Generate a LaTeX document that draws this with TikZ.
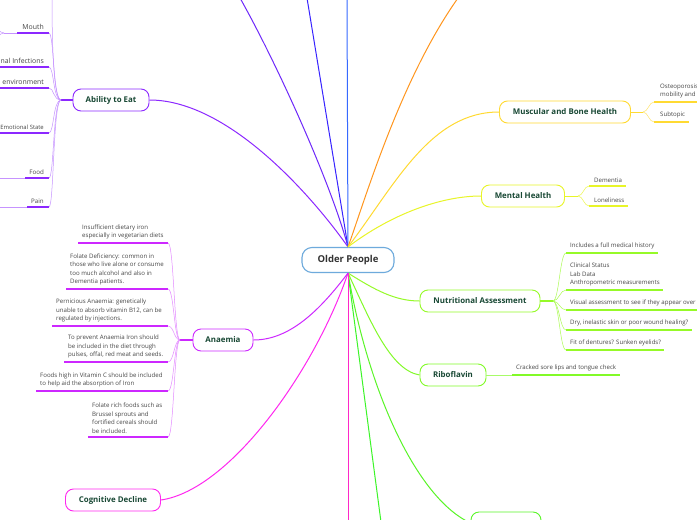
\documentclass[tikz,border=0pt]{standalone}
\usepackage{fontspec}
\setmainfont{Open Sans}
\definecolor{abl}{RGB}{140,40,255}
\definecolor{topViolet}{RGB}{110,40,250}
\definecolor{topBlue}{RGB}{55,35,255}
\definecolor{vertBlue}{RGB}{55,105,255}
\definecolor{orng}{RGB}{255,150,30}
\definecolor{musc}{RGB}{255,218,50}
\definecolor{ment}{RGB}{232,245,40}
\definecolor{nutr}{RGB}{150,250,40}
\definecolor{ribo}{RGB}{130,250,40}
\definecolor{grnA}{RGB}{90,245,40}
\definecolor{grnB}{RGB}{60,245,40}
\definecolor{pinkV}{RGB}{255,40,200}
\definecolor{cogn}{RGB}{255,40,240}
\definecolor{anae}{RGB}{205,40,255}
\definecolor{centerBlue}{RGB}{110,170,220}
\definecolor{topicText}{RGB}{24,72,52}
\definecolor{leafText}{RGB}{70,70,70}
\begin{document}
\begin{tikzpicture}[x=1pt,y=-1pt]
        \tikzstyle{topic}=[draw, rounded corners=8pt, line width=0.9pt, fill=white, minimum height=22pt, inner xsep=6pt, font=\fontsize{7.9}{9}\selectfont\bfseries, text=topicText];
        \tikzstyle{leaf}=[inner sep=0pt, font=\fontsize{6.1}{8.5}\selectfont, text=leafText];
        \tikzstyle{uline}=[line width=1.4pt];
        \tikzstyle{twig}=[line width=0.5pt];
        \tikzstyle{branch}=[line width=1pt];

        \clip (0,0) rectangle (697,520);
        \fill[white] (0,0) rectangle (697,520);

        % main topics
        \node[draw=centerBlue, line width=1.1pt, rounded corners=10pt, fill=white, minimum width=92pt, minimum height=25pt, font=\fontsize{9.5}{11}\selectfont\bfseries, text=black!80] (older) at (348,260) {Older People};
        \node[topic, draw=abl, minimum width=76pt] (ability) at (111,100) {Ability to Eat};
        \node[topic, draw=anae, minimum width=60pt] (anaemia) at (223,340) {Anaemia};
        \node[topic, draw=cogn, minimum width=95pt] (cognitive) at (113,500) {Cognitive Decline};
        \node[topic, draw=musc, minimum width=131pt] (muscular) at (565,112) {Muscular and Bone Health};
        \node[topic, draw=ment, minimum width=83pt] (mental) at (523,196) {Mental Health};
        \node[topic, draw=nutr, minimum width=120pt] (nutritional) at (480,301) {Nutritional Assessment};
        \node[topic, draw=ribo, minimum width=66pt] (riboflavin) at (453,375) {Riboflavin};
        \node[topic, draw=grnA, minimum width=70pt] (lowgreen) at (506,523) {};

        % branches from the centre
        \coordinate (offViolet) at (240,-2);
        \coordinate (offBlue) at (307,-2);
        \coordinate (offVert) at (347,-2);
        \coordinate (offOrange) at (458,-2);
        \coordinate (offGreen) at (381,522);
        \coordinate (offPink) at (348,522);
        \draw[abl, branch] (older.north) .. controls (315,200) and (230,100) .. (ability.east);
        \draw[topViolet, branch] (older.north) .. controls (330,180) and (275,60) .. (offViolet);
        \draw[topBlue, branch] (older.north) -- (offBlue);
        \draw[vertBlue, branch] (older.north) -- (offVert);
        \draw[orng, branch] (older.north) .. controls (365,200) and (400,80) .. (offOrange);
        \draw[musc, branch] (older.north) .. controls (395,185) and (430,112) .. (muscular.west);
        \draw[ment, branch] (older.north) .. controls (390,215) and (440,196) .. (mental.west);
        \draw[nutr, branch] (older.south) .. controls (375,290) and (395,301) .. (nutritional.west);
        \draw[ribo, branch] (older.south) .. controls (370,320) and (390,370) .. (riboflavin.west);
        \draw[grnA, branch] (older.south) .. controls (370,400) and (420,500) .. (lowgreen.west);
        \draw[grnB, branch] (older.south) -- (offGreen);
        \draw[pinkV, branch] (older.south) -- (offPink);
        \draw[cogn, branch] (older.south) .. controls (315,370) and (230,490) .. (cognitive.east);
        \draw[anae, branch] (older.south) .. controls (320,310) and (290,340) .. (anaemia.east);

        % Ability to Eat
        \coordinate (abStem) at (61,100);
        \coordinate (abTop) at (52,-4);
        \draw[abl, uline] (ability.west) -- (abStem);
        \draw[abl!50, twig] (abStem) to[out=180, in=270, out distance=8pt, in distance=40pt] (abTop);
        \foreach \y/\xa/\name/\fs/\txt in {33/17/mouth/6.9/Mouth, 67/0/infect/6.9/nal Infections, 88/0/envir/6.9/environment, 133/0/emot/5.9/Emotional State, 178/25/food/6.2/Food, 207/27/pain/6.2/Pain} {
            \coordinate (ab-\name) at (49,\y);
            \draw[abl, uline] (\xa,\y) -- (ab-\name);
            \node[leaf, anchor=south east, font=\fontsize{\fs}{8}\selectfont] (abt-\name) at (44,\y-3.5) {\txt};
            \draw[abl!50, twig] (abStem) to[out=180, in=0, out distance=8pt, in distance=5pt] (ab-\name);
        }
        \coordinate (mouthFork) at (4,33);
        \coordinate (mouthUp) at (-8,26);
        \coordinate (mouthDown) at (-8,40);
        \draw[abl!50, twig] (17,33) -- (mouthFork);
        \draw[abl!50, twig] (mouthFork) to[out=180, in=0] (mouthUp);
        \draw[abl!50, twig] (mouthFork) to[out=180, in=0] (mouthDown);
        \draw[abl!50, twig] (25,178) -- (-2,178);
        \draw[abl!50, twig] (27,207) -- (-2,207);

        % Anaemia
        \coordinate (anStem) at (180,340);
        \draw[anae, uline] (anaemia.west) -- (anStem);
        \foreach \y/\xa/\name/\txt in {243/78/iron/{Insufficient dietary iron\\especially in vegetarian diets},
                289/66/folate/{Folate Deficiency: common in\\those who live alone or consume\\too much alcohol and also in\\Dementia patients.},
                326/52/pernicious/{Pernicious Anaemia: genetically\\unable to absorb vitamin B12, can be\\regulated by injections.},
                362/64/prevent/{To prevent Anaemia Iron should\\be included in the diet through\\pulses, offal, red meat and seeds.},
                391/36/vitc/{Foods high in Vitamin C should be included\\to help aid the absorption of Iron},
                437/88/folrich/{Folate rich foods such as\\Brussel sprouts and\\fortified cereals should\\be included.}} {
            \coordinate (an-\name) at (168,\y);
            \draw[anae, uline] (\xa,\y) -- (an-\name);
            \node[leaf, anchor=south west, align=left] (ant-\name) at (\xa+4,\y-3.5) {\txt};
            \draw[anae!55, twig] (anStem) to[out=180, in=0, out distance=6pt, in distance=6pt] (an-\name);
        }

        % Muscular and Bone Health
        \coordinate (muStem) at (643,112);
        \draw[musc, twig] (muscular.east) -- (muStem);
        \foreach \y/\xb/\name/\txt in {102/700/osteo/{Osteoporosis\\mobility and}, 122/689/subtopic/Subtopic} {
            \coordinate (mu-\name) at (654,\y);
            \draw[musc, uline] (mu-\name) -- (\xb,\y);
            \node[leaf, anchor=south west, align=left] (mut-\name) at (660,\y-3.5) {\txt};
            \draw[musc!70, twig] (muStem) to[out=0, in=180, out distance=5pt, in distance=5pt] (mu-\name);
        }

        % Mental Health
        \coordinate (meStem) at (578,196);
        \draw[ment, twig] (mental.east) -- (meStem);
        \foreach \y/\xb/\name/\txt in {186/626/dementia/Dementia, 206/628/lonely/Loneliness} {
            \coordinate (me-\name) at (589,\y);
            \draw[ment, uline] (me-\name) -- (\xb,\y);
            \node[leaf, anchor=south west] (met-\name) at (594,\y-3.5) {\txt};
            \draw[ment!80, twig] (meStem) to[out=0, in=180, out distance=5pt, in distance=5pt] (me-\name);
        }

        % Nutritional Assessment
        \coordinate (nuStem) at (553,301);
        \draw[nutr, uline] (nutritional.east) -- (nuStem);
        \foreach \y/\xb/\name/\txt in {253/658/history/Includes a full medical history,
                290/663/clinical/{Clinical Status\\Lab Data\\Anthropometric measurements},
                310/700/visual/Visual assessment to see if they appear over,
                330/692/skin/{Dry, inelastic skin or poor wound healing?},
                350/664/dentures/{Fit of dentures? Sunken eyelids?}} {
            \coordinate (nu-\name) at (566,\y);
            \draw[nutr, uline] (nu-\name) -- (\xb,\y);
            \node[leaf, anchor=south west, align=left] (nut-\name) at (570,\y-3.5) {\txt};
            \draw[nutr!80, twig] (nuStem) to[out=0, in=180, out distance=6pt, in distance=6pt] (nu-\name);
        }

        % Riboflavin
        \coordinate (ri-lips) at (512,375);
        \draw[ribo!70, twig] (riboflavin.east) -- (ri-lips);
        \draw[ribo, uline] (ri-lips) -- (620,375);
        \node[leaf, anchor=south west] (rit-lips) at (516,371.5) {Cracked sore lips and tongue check};
    \end{tikzpicture}
\end{document}
